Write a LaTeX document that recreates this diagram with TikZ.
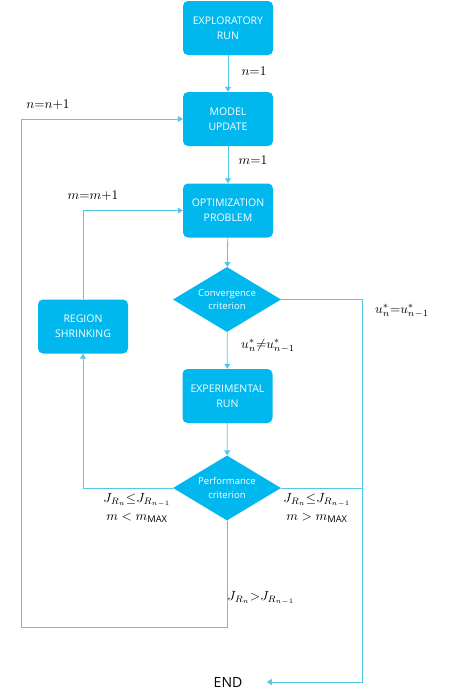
\documentclass[tikz,border=0pt]{standalone}
\usepackage{amsmath}
\usepackage{fontspec}
\setmainfont{Open Sans}
\usetikzlibrary{shapes.geometric,arrows.meta}
\definecolor{boxBlue}{RGB}{0,183,238}
\definecolor{lineBlue}{RGB}{85,200,232}
\newcommand{\condMath}[1]{\scalebox{1.33}{$#1$}}

\begin{document}
\begin{tikzpicture}
      [ x=1pt, y=-1pt
      , procBox/.style={fill=boxBlue, text=white, rounded corners=5pt, minimum width=90pt, minimum height=54pt, align=center, font=\fontsize{10.5}{15}\selectfont}
      , decision/.style={diamond, fill=boxBlue, text=white, minimum width=108pt, minimum height=65pt, aspect=1.66, inner sep=0pt, align=center, font=\fontsize{9.5}{13.5}\selectfont}
      , flow/.style={lineBlue, line width=0.8pt, draw}
      , tip/.style={-{Triangle[length=5pt,width=6pt]}}
      , cond/.style={align=center, inner sep=1pt}
      ]
    \useasboundingbox (0,0) rectangle (474,697);

    \node[procBox] (ER) at (228,28) {EXPLORATORY\\RUN};
    \node[procBox] (MU) at (228,119) {MODEL\\UPDATE};
    \node[procBox] (OP) at (228,210.5) {OPTIMIZATION\\PROBLEM};
    \node[decision] (CC) at (227,299.5) {Convergence\\criterion};
    \node[procBox] (RS) at (83,326.5) {REGION\\SHRINKING};
    \node[procBox] (XR) at (227.5,396) {EXPERIMENTAL\\RUN};
    \node[decision] (PC) at (227,488) {Performance\\criterion};
    \node[font=\fontsize{14}{16}\selectfont] (END) at (228,682) {END};

    \coordinate (cornerR) at (362,682);
    \coordinate (cornerL) at (21,627);

    \draw[tip, flow]
    (ER) edge (MU)
    (MU) edge (OP)
    (OP) edge (CC)
    (CC) edge (XR)
    (XR) edge (PC);

    \draw[tip, flow] (PC.west) -| (RS.south);
    \draw[tip, flow] (RS.north) |- (OP.west);
    \draw[tip, flow] (PC.south) |- (cornerL) |- (MU.west);
    \draw[tip, flow, shorten >=21pt] (CC.east) -| (cornerR) -- (END.east);
    \draw[flow] (PC.east) -- (PC.east -| cornerR);

    \node[cond] (n1) at (254,71) {\condMath{n{=}1}};
    \node[cond] (m1) at (253,160) {\condMath{m{=}1}};
    \node[cond] (nInc) at (48,105) {\condMath{n{=}n{+}1}};
    \node[cond] (mInc) at (93,196) {\condMath{m{=}m{+}1}};
    \node[cond] (uNe) at (268,346) {\condMath{u^{*}_{n}{\neq}u^{*}_{n-1}}};
    \node[cond] (uEq) at (402,311) {\condMath{u^{*}_{n}{=}u^{*}_{n-1}}};
    \node[cond] (jLeft) at (137,508) {\condMath{J_{R_n}{\leq}J_{R_{n-1}}}\\[6pt]\condMath{m < m_{\mathrm{MAX}}}};
    \node[cond] (jRight) at (317,508) {\condMath{J_{R_n}{\leq}J_{R_{n-1}}}\\[6pt]\condMath{m > m_{\mathrm{MAX}}}};
    \node[cond] (jGt) at (261,598) {\condMath{J_{R_n}{>}J_{R_{n-1}}}};
\end{tikzpicture}
\end{document}
